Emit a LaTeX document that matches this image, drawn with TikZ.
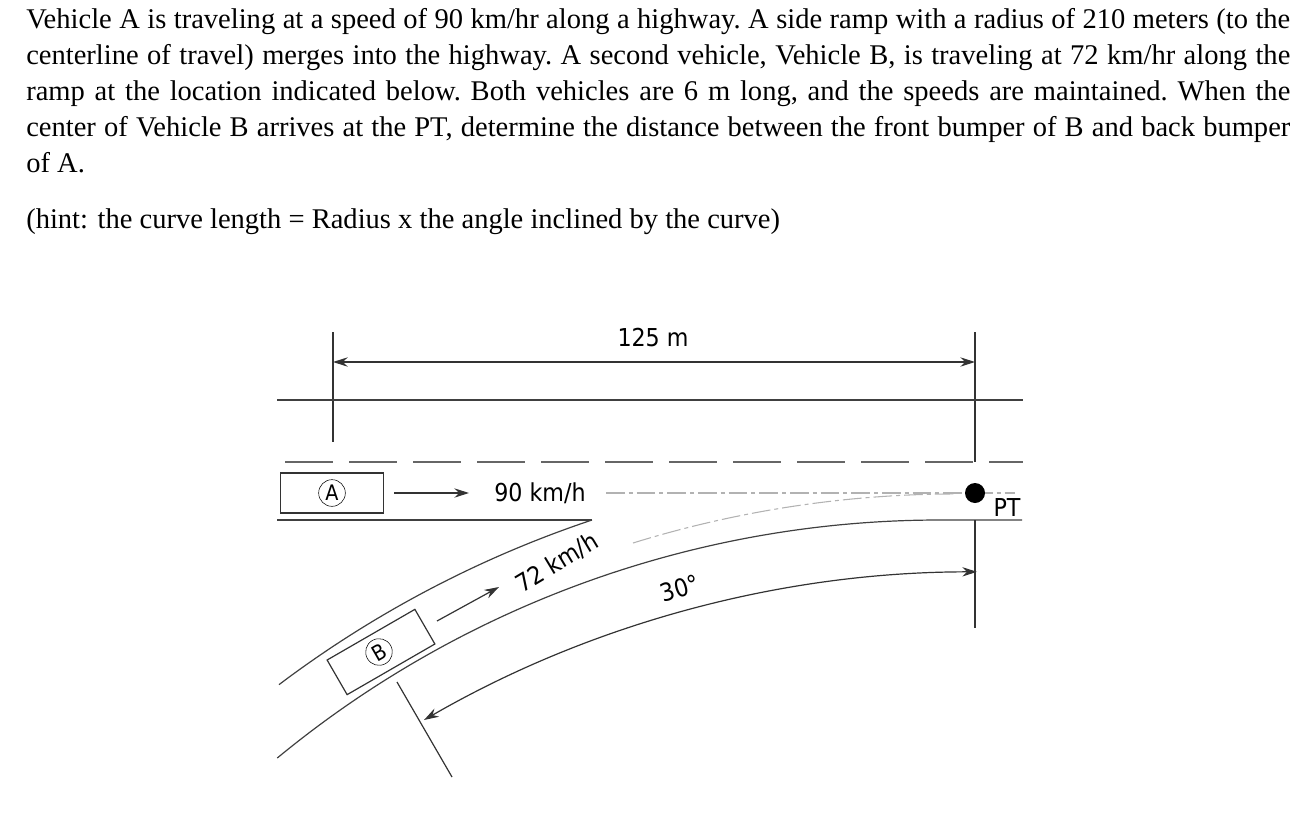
\documentclass[tikz,border=0pt]{standalone}
\usepackage{fontspec}
\setmainfont{Liberation Serif}
\newfontfamily\dfont{DejaVu Sans Condensed}
\usetikzlibrary{arrows.meta}
\begin{document}
\begin{tikzpicture}[x=0.75pt,y=0.75pt,
  road/.style={draw=black!75,line width=0.9pt},
  dimline/.style={draw=black!80,line width=0.9pt},
  tip/.style={-{Stealth[length=11pt,width=7pt]}},
  lbl/.style={font=\dfont\fontsize{18.5}{20}\selectfont,inner sep=1pt},
  car/.style={draw=black!80,line width=0.9pt,minimum width=76pt,minimum height=30pt,inner sep=0pt},
  letter/.style={draw,circle,minimum size=20pt,inner sep=0pt,font=\dfont\fontsize{16}{17}\selectfont}]
\useasboundingbox (0,0) rectangle (1314,-832);
\node[anchor=north west,inner sep=0pt,text width=948pt,align=justify,font=\fontsize{21.4}{27}\selectfont\frenchspacing] (para) at (26,-8)
{Vehicle A is traveling at a speed of 90 km/hr along a highway. A side ramp with a radius of 210 meters (to the\linebreak
centerline of travel) merges into the highway. A second vehicle, Vehicle B, is traveling at 72 km/hr along the\linebreak
ramp at the location indicated below. Both vehicles are 6 m long, and the speeds are maintained. When the\linebreak
center of Vehicle B arrives at the PT, determine the distance between the front bumper of B and back bumper\linebreak
of A.};
\node[anchor=west,inner sep=0pt,font=\fontsize{21.4}{27}\selectfont] (hint) at (26,-222) {(hint: the curve length = Radius x the angle inclined by the curve)};
% coordinates
\coordinate (dl1) at (333,-332); \coordinate (dl2) at (333,-442);
\coordinate (dr1) at (975,-332); \coordinate (dr2) at (975,-462);
\coordinate (da) at (333,-362); \coordinate (db) at (975,-362);
\coordinate (t1) at (277,-400); \coordinate (t2) at (1023,-400);
\coordinate (m1) at (277,-462); \coordinate (m2) at (1023,-462);
\coordinate (b1) at (277,-520); \coordinate (b2) at (592,-520);
\coordinate (r1) at (940,-520); \coordinate (r2) at (1022,-520);
\coordinate (v1) at (975,-520); \coordinate (v2) at (975,-628);
\coordinate (q1) at (397,-682); \coordinate (q2) at (452,-777);
% dimension
\draw[dimline] (dl1) -- (dl2);
\draw[dimline] (dr1) -- (dr2);
\draw[dimline,{Stealth[length=11pt,width=7pt]}-{Stealth[length=11pt,width=7pt]}] (da) -- (db);
\node[lbl] (len) at (653,-338) {125 m};
% highway
\draw[road] (t1) -- (t2);
\draw[road,black!60,dash pattern=on 36pt off 12pt,dash phase=-6pt] (m1) -- (m2);
\draw[road] (b1) -- (b2);
\draw[road] (b2) arc[start angle=108.5,end angle=127,radius=825pt];
\draw[road] (r2) -- (r1) arc[start angle=90,end angle=129.5,radius=781.5pt];
% centerlines
\draw[black!30,line width=0.8pt,dash pattern=on 14pt off 3pt on 3pt off 3pt] (606,-493) -- (1015,-493);
\draw[black!30,line width=0.8pt,dash pattern=on 14pt off 3pt on 3pt off 3pt] (633,-543) arc[start angle=107.2,end angle=90,radius=822pt];
% vehicle A
\node[car,minimum width=77pt] (carA) at (332,-493) {};
\node[letter] (A) at (carA) {A};
\coordinate (aa1) at (394,-493); \coordinate (aa2) at (469,-493);
\draw[dimline,tip] (aa1) -- (aa2);
\node[lbl] (vA) at (540,-493) {90 km/h};
% PT
\node[circle,fill=black,minimum size=15pt,inner sep=0pt] (pt) at (975,-493) {};
\node[lbl] (ptl) at (1007,-508) {PT};
% vehicle B
\node[car,rotate=30] (carB) at (381,-652) {};
\node[letter,rotate=30] (B) at (379,-652) {B};
\coordinate (ba1) at (437,-621); \coordinate (ba2) at (499,-587);
\draw[dimline,tip] (ba1) -- (ba2);
\node[lbl,rotate=31] (vB) at (557,-563) {72 km/h};
% angle
\draw[dimline] (v1) -- (v2);
\draw[dimline] (q1) -- (q2);
\draw[dimline,{Stealth[length=11pt,width=7pt]}-{Stealth[length=11pt,width=7pt]}] (424,-720) arc[start angle=120,end angle=90,radius=829.5pt];
\node[lbl,rotate=17] (ang) at (680,-588) {30°};
\end{tikzpicture}
\end{document}
